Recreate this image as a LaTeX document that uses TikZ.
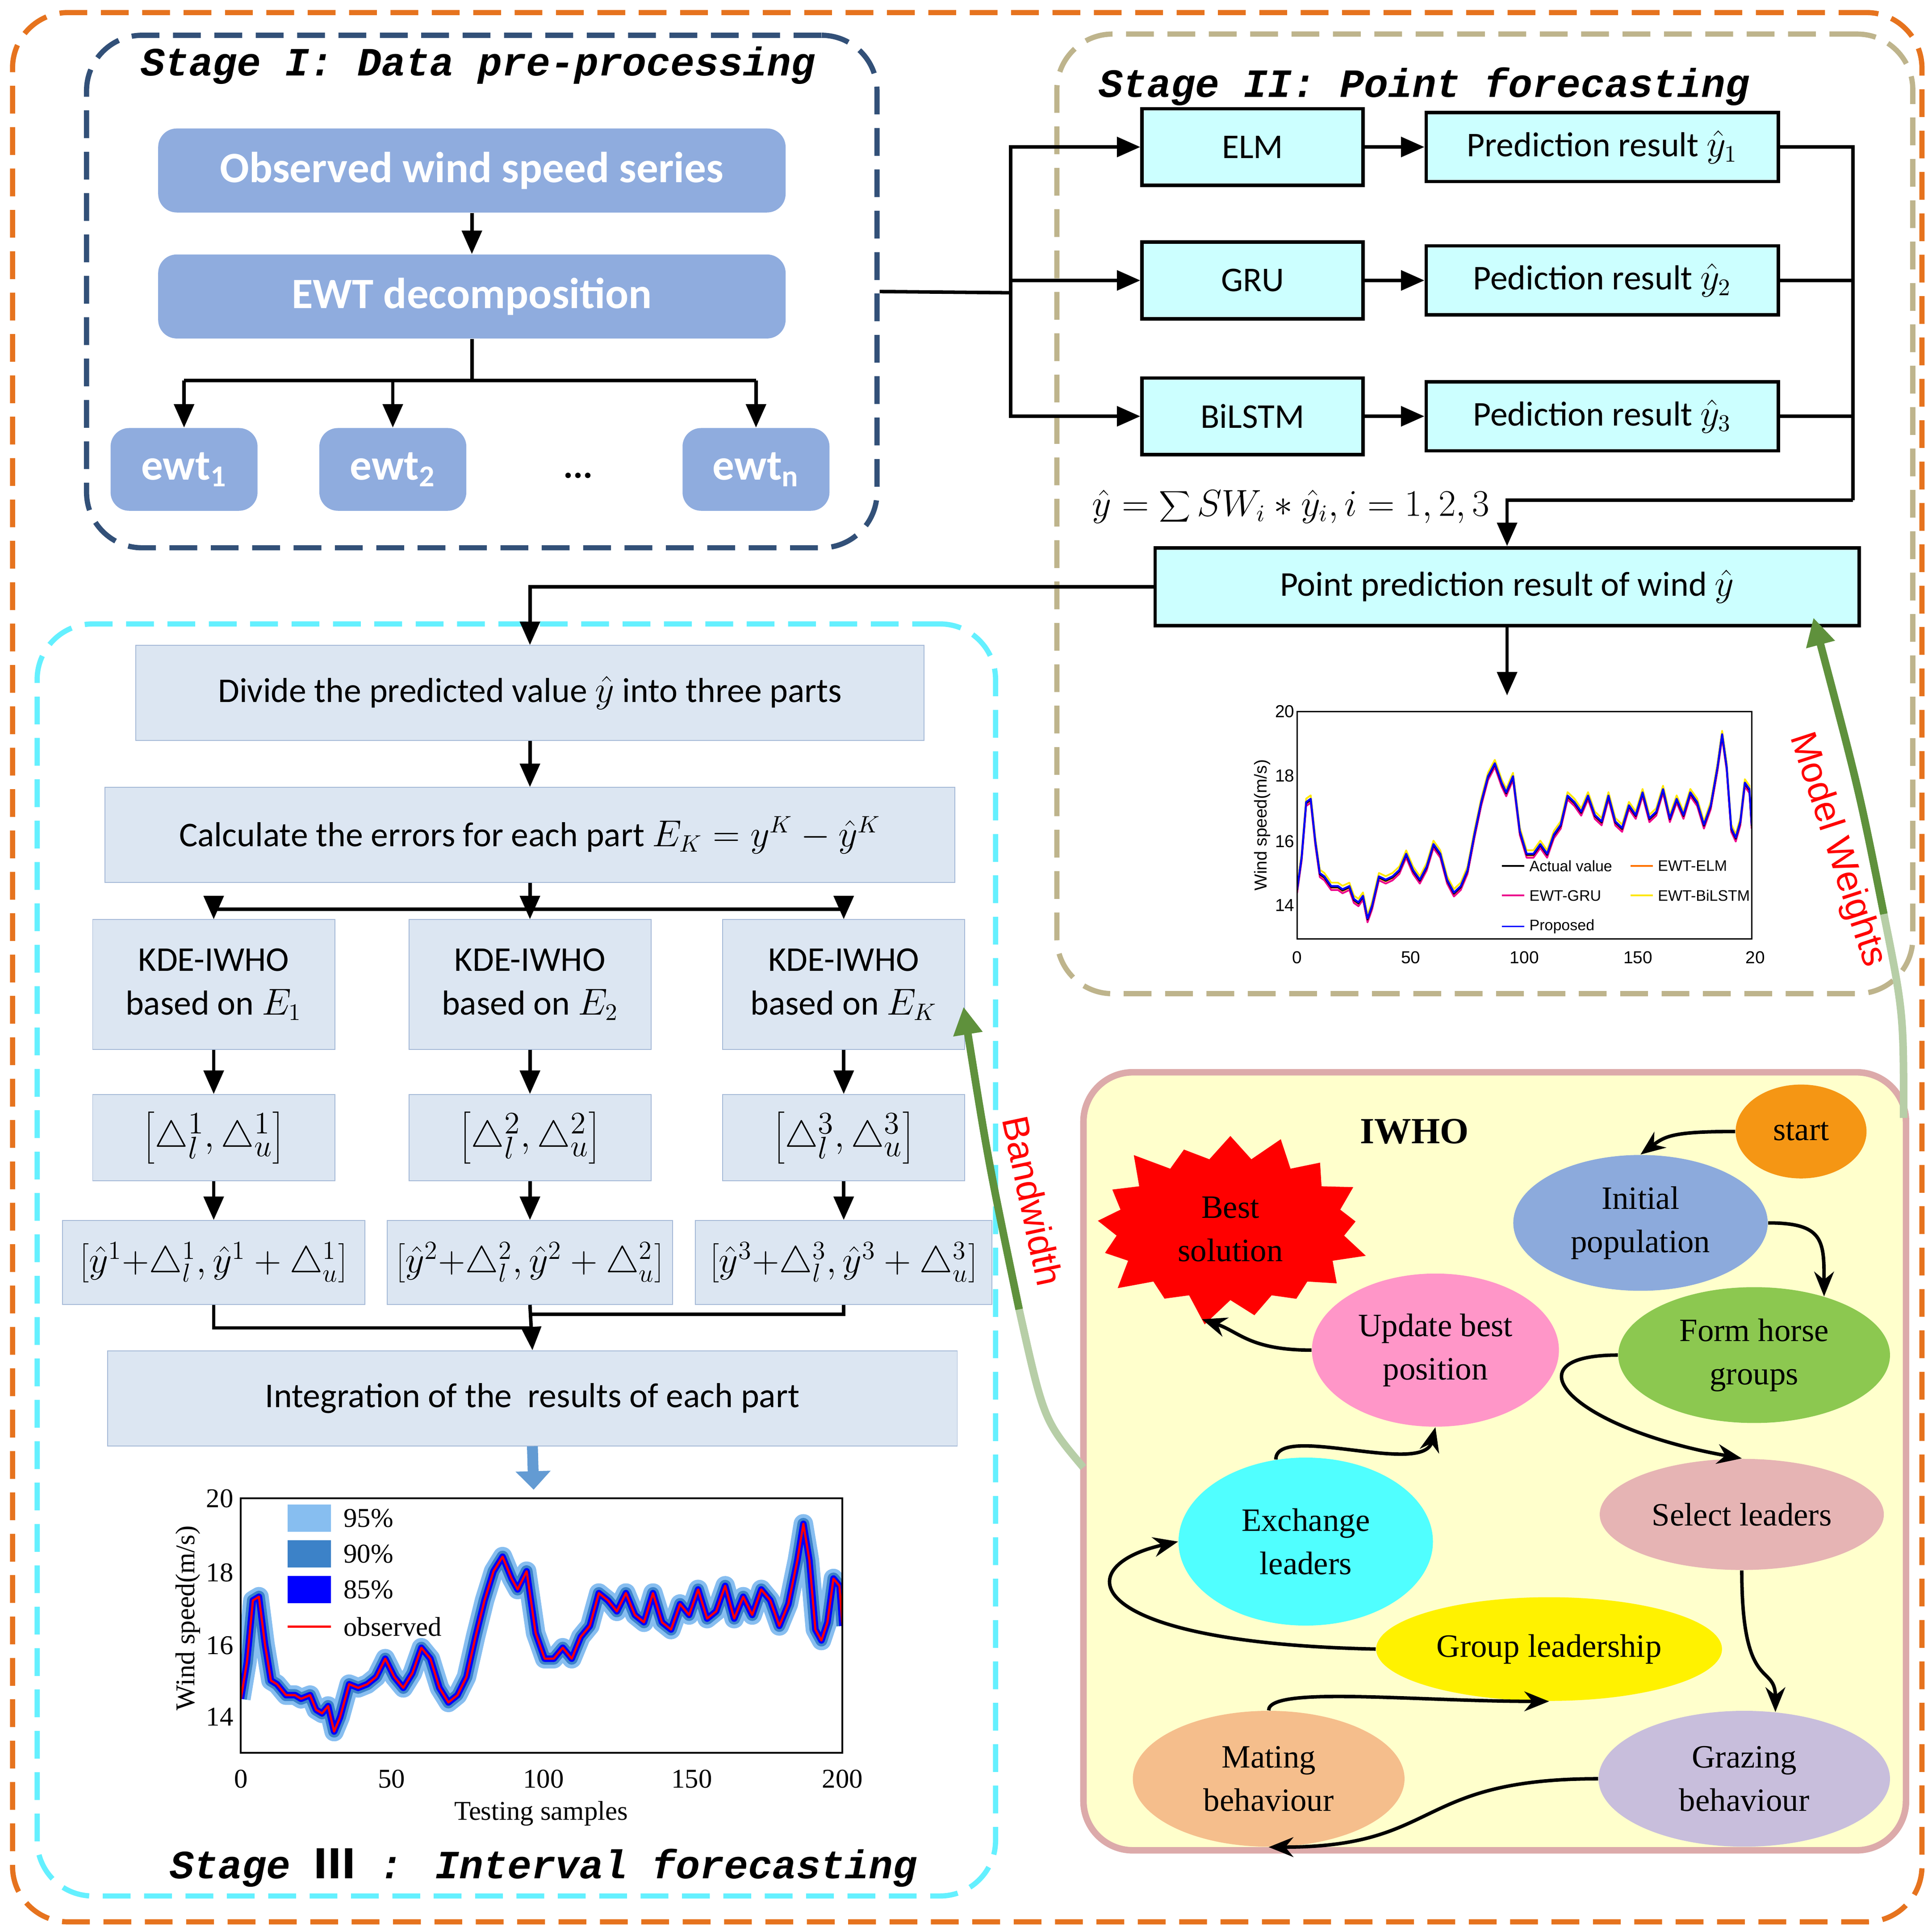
\documentclass[tikz,border=0pt]{standalone}
\usepackage{fontspec}
\setmainfont{Carlito}
\newfontfamily\tnr{Liberation Serif}
\newfontfamily\mono{Liberation Mono}
\newfontfamily\arial{Liberation Sans}
\newfontfamily\cjk{Noto Sans CJK SC}
\usepackage{tikz}
\usetikzlibrary{arrows.meta,shapes.geometric,shapes.symbols,calc}
\definecolor{StageOneColor}{RGB}{50,80,120}
\definecolor{StageTwoColor}{RGB}{190,180,140}
\definecolor{StageThreeColor}{RGB}{100,240,255}
\definecolor{OuterColor}{RGB}{230,115,30}
\definecolor{EwtFill}{RGB}{143,172,222}
\definecolor{ModelFill}{RGB}{204,255,255}
\definecolor{PartFill}{RGB}{220,230,242}
\definecolor{PartDraw}{RGB}{165,185,215}
\definecolor{IwhoFill}{RGB}{255,255,204}
\definecolor{IwhoDraw}{RGB}{220,170,170}
\definecolor{WeightGreen}{RGB}{95,145,60}
\definecolor{BandA}{RGB}{135,190,240}
\definecolor{BandB}{RGB}{60,130,200}
\def\winddata{2/15.5,4/17.2,6/17.3,8/16,10/15,12/14.9,15/14.6,18/14.6,20/14.5,23/14.6,25/14.2,27/14.1,29/14.3,31/13.6,33/14,36/14.9,39/14.8,42/14.9,45/15.1,48/15.6,51/15.1,54/14.8,57/15.2,60/15.9,63/15.6,66/14.8,69/14.4,72/14.6,75/15.1,78/16.2,81/17.2,84/18,87/18.4,90/17.8,92/17.5,95/18,98/16.3,101/15.6,104/15.6,107/15.9,110/15.6,113/16.2,116/16.5,119/17.4,122/17.2,125/16.9,128/17.4,131/16.8,134/16.6,137/17.4,140/16.6,143/16.4,146/17.1,149/16.8,152/17.5,155/16.7,158/16.9,161/17.6,164/16.7,167/17.3,170/16.8,173/17.5,176/17.2,179/16.5,182/17.1,185/18.3,187/19.3,189/18.3,191/16.4,193/16.1,195/16.6,197/17.8,199/17.6,200/16.5}
\newcommand\windline[1]{\draw[#1,line join=round] (0,14.5) \foreach \a/\b in \winddata {-- (\a,\b)};}
\begin{document}
\begin{tikzpicture}[x=0.02cm,y=-0.02cm,
  stage/.style={draw,dashed,line width=2.4pt,dash pattern=on 0.45cm off 0.22cm,rounded corners=0.9cm,inner sep=0},
  ewt/.style={fill=EwtFill,rounded corners=0.3cm,text=white,font=\bfseries\fontsize{20}{24}\selectfont},
  model/.style={draw,fill=ModelFill,line width=1.6pt,font=\fontsize{16}{18}\selectfont},
  part/.style={draw=PartDraw,fill=PartFill,align=center,font=\fontsize{16}{20}\selectfont},
  title/.style={font=\mono\bfseries\itshape\fontsize{18.5}{20}\selectfont},
  arr/.style={line width=1.6pt,-{Triangle[length=0.38cm,width=0.32cm]}},
  line/.style={line width=1.6pt},
  act/.style={ellipse,inner sep=0,align=center,font=\tnr\fontsize{15}{20}\selectfont},
  carr/.style={line width=1.6pt,-{Stealth[length=0.4cm,width=0.32cm]}},
  tick/.style={font=\tnr\fontsize{12.5}{14}\selectfont},
  small/.style={font=\arial\fontsize{7}{8}\selectfont,inner sep=1pt,anchor=west}]
\useasboundingbox (0,0) rectangle (1564,1563);
% outer frame and stages
\node[stage,draw=OuterColor,minimum width=30.92cm,minimum height=30.92cm] (outer) at (783,783) {};
\node[stage,draw=StageOneColor,minimum width=12.8cm,minimum height=8.3cm] (stageI) at (390,236) {};
\node[stage,draw=StageTwoColor,minimum width=13.86cm,minimum height=15.54cm] (stageII) at (1202,416) {};
\node[stage,draw=StageThreeColor,minimum width=15.52cm,minimum height=20.6cm] (stageIII) at (418,1020) {};
\node[title] (tI) at (387,53) {Stage I: Data pre-processing};
\node[title] (tII) at (1153,70) {Stage II: Point forecasting};
\node[title] (tIII) at (440,1512) {Stage {\cjk Ⅲ} : Interval forecasting};

% Stage I
\node[ewt,minimum width=10.16cm,minimum height=1.36cm] (obs) at (382,138) {Observed wind speed series};
\node[ewt,minimum width=10.16cm,minimum height=1.36cm] (dec) at (382,240) {EWT decomposition};
\foreach \x/\n/\s in {149/e1/1,318/e2/2,612/en/n}
  \node[ewt,minimum width=2.38cm,minimum height=1.34cm] (\n) at (\x,380) {ewt\textsubscript{\s}};
\node[font=\bfseries\fontsize{17}{20}\selectfont] (dots) at (468,385) {...};
\draw[arr] (obs) -- (dec);
\coordinate (decsplit) at (382,308);
\draw[line] (dec.south) -- (decsplit);
\draw[line] (e1.north |- decsplit) -- (en.north |- decsplit);
\foreach \n in {e1,e2,en}
  \draw[arr] (\n.north |- decsplit) -- (\n.north);

% Stage II
\foreach \y/\m/\p/\t in {119/elm/pa/{Prediction result $\hat{y}_1$},227/gru/pb/{Pediction result $\hat{y}_2$},337/bilstm/pc/{Pediction result $\hat{y}_3$}}
{
  \node[model,minimum width=3.58cm,minimum height=1.24cm] (\m) at (1014,\y) {};
  \node[model,minimum width=5.7cm,minimum height=1.12cm] (\p) at (1297,\y) {\t};
  \draw[arr] (\m) -- (\p);
}
\node[font=\fontsize{16}{18}\selectfont] (elmt) at (elm) {ELM};
\node[font=\fontsize{16}{18}\selectfont] (grut) at (gru) {GRU};
\node[font=\fontsize{16}{18}\selectfont] (bilt) at (bilstm) {BiLSTM};
\coordinate (split) at (818,237);
\draw[line] (stageI.east) -- (split);
\draw[arr] (split) |- (elm);
\draw[arr] (split) |- (gru);
\draw[arr] (split) |- (bilstm);
\node[model,minimum width=11.4cm,minimum height=1.26cm] (point) at (1220,475) {Point prediction result of wind $\hat{y}$};
\coordinate (sumr) at (1500,405);
\draw[line] (pa.east) -| (sumr);
\draw[line] (pb.east) -- (pb.east -| sumr);
\draw[line] (pc.east) -- (pc.east -| sumr);
\draw[arr] (sumr) -| (point.north);
\node[font=\tnr\fontsize{16}{18}\selectfont] (formula) at (1045,410) {$\hat{y}=\displaystyle\sum SW_i*\hat{y}_i, i=1,2,3$};
\coordinate (chartin) at (1220,563);
\draw[arr] (point.south) -- (chartin);

% point chart
\begin{scope}
\clip (1050,576) rectangle (1418,760);
\begin{scope}[shift={(1050,1099.4)},xscale=1.84,yscale=-26.17]
\windline{yellow!90!orange,line width=0.8pt,yshift=-0.06pt}
\windline{orange!90!red,line width=0.8pt,yshift=0.03pt}
\windline{magenta,line width=0.8pt,yshift=0.07pt}
\windline{black,line width=0.8pt,yshift=0.02pt}
\windline{blue,line width=0.9pt}
\end{scope}
\end{scope}
\draw[line width=0.6pt] (1050,576) rectangle (1418,760);
\foreach \v/\yy in {14/733,16/681,18/628,20/576}
  \node[font=\arial\fontsize{8}{9}\selectfont] (py\v) at (1040,\yy) {\v};
\foreach \v/\xx in {0/1050,50/1142,100/1234,150/1326}
  \node[font=\arial\fontsize{8}{9}\selectfont] (px\v) at (\xx,775) {\v};
\node[font=\arial\fontsize{8}{9}\selectfont,anchor=west] (px200) at (1407,775) {20};
\node[font=\arial\fontsize{8}{9}\selectfont,rotate=90] (pylab) at (1022,668) {Wind speed(m/s)};
\foreach \c/\xx/\yy/\t/\n in {black/1216/701/Actual value/la,orange!90!red/1320/701/EWT-ELM/lb,magenta/1216/725/EWT-GRU/lc,yellow!90!orange/1320/725/EWT-BiLSTM/ld,blue/1216/750/Proposed/le}
{
  \draw[\c,line width=0.8pt] (\xx,\yy) -- (\xx+18,\yy);
  \node[small] (\n) at (\xx+20,\yy) {\t};
}

% Stage III
\node[part,minimum width=12.76cm,minimum height=1.54cm] (divide) at (429,561) {Divide the predicted value $\hat{y}$ into three parts};
\node[part,minimum width=13.76cm,minimum height=1.54cm] (calc) at (429,676) {Calculate the errors for each part $E_K=y^K-\hat{y}^K$};
\draw[arr] (point.west) -| (divide.north);
\draw[arr] (divide) -- (calc);
\coordinate (bar) at (429,736);
\foreach \x/\k/\s/\w in {173/1/1/4.9,429/2/2/4.62,683/3/K/4.8}
{
  \node[part,minimum width=3.92cm,minimum height=2.1cm] (kde\k) at (\x,797) {KDE-IWHO\\based on $E_{\s}$};
  \node[part,minimum width=3.92cm,minimum height=1.4cm,font=\fontsize{19}{20}\selectfont] (int\k) at (\x,921) {$\left[\triangle_l^{\k},\triangle_u^{\k}\right]$};
  \node[part,minimum width=\w cm,minimum height=1.36cm,font=\fontsize{18}{20}\selectfont] (fin\k) at (\x,1022) {$\left[\hat{y}^{\k}{+}\triangle_l^{\k},\hat{y}^{\k}+\triangle_u^{\k}\right]$};
  \draw[arr] (kde\k.north |- bar) -- (kde\k.north);
  \draw[arr] (kde\k) -- (int\k);
  \draw[arr] (int\k) -- (fin\k);
}
\draw[line] (calc.south) -- (bar);
\draw[line] (kde1.north |- bar) -- (kde3.north |- bar);
\node[part,minimum width=13.76cm,minimum height=1.54cm] (integ) at (431,1132) {Integration of the \ results of each part};
\coordinate (joinA) at (429,1075);
\coordinate (joinB) at (429,1064);
\draw[line] (fin1.south) |- (joinA);
\draw[line] (fin3.south) |- (joinB);
\draw[arr] (fin2.south) -- (integ.north);
\coordinate (bandin) at (432,1206);
\draw[line width=5pt,BandB!80,-{Triangle[length=0.3cm,width=0.55cm]}] (integ.south) -- (bandin);

% interval chart
\begin{scope}
\clip (195,1213) rectangle (682,1419);
\begin{scope}[shift={(195,1803)},xscale=2.435,yscale=-29.5]
\windline{BandA,line width=9pt}
\windline{BandB,line width=5.5pt}
\windline{blue,line width=3pt}
\windline{red,line width=1pt}
\end{scope}
\end{scope}
\draw[line width=0.8pt] (195,1213) rectangle (682,1419);
\foreach \v/\yy in {14/1390,16/1332,18/1273,20/1213}
  \node[tick] (iy\v) at (178,\yy) {\v};
\foreach \v/\xx in {0/195,50/317,100/440,150/560,200/682}
  \node[tick] (ix\v) at (\xx,1440) {\v};
\node[tick,rotate=90] (iylab) at (152,1310) {Wind speed(m/s)};
\node[tick] (ixlab) at (438,1468) {Testing samples};
\foreach \c/\yy/\t/\n in {BandA/1229/95\%/ka,BandB/1258/90\%/kb,blue/1287/85\%/kc}
{
  \fill[\c] (233,\yy-11) rectangle (268,\yy+11);
  \node[tick,anchor=west] (\n) at (272,\yy) {\t};
}
\draw[red,line width=1pt] (233,1317) -- (268,1317);
\node[tick,anchor=west] (kd) at (272,1317) {observed};

% IWHO
\node[draw=IwhoDraw,fill=IwhoFill,line width=3pt,rounded corners=0.8cm,minimum width=13.32cm,minimum height=12.6cm] (iwho) at (1210,1183) {};
\node[font=\tnr\bfseries\fontsize{17}{20}\selectfont] (iwhot) at (1145,916) {IWHO};
\node[act,fill={rgb,255:red,245;green,150;blue,20},minimum width=2.12cm,minimum height=1.52cm] (start) at (1458,916) {start};
\node[act,fill={rgb,255:red,140;green,170;blue,220},minimum width=4.12cm,minimum height=2.2cm] (init) at (1328,990) {Initial\\population};
\node[act,fill={rgb,255:red,140;green,200;blue,80},minimum width=4.4cm,minimum height=2.2cm] (form) at (1420,1097) {Form horse\\groups};
\node[act,fill={rgb,255:red,255;green,150;blue,200},minimum width=4cm,minimum height=2.48cm] (update) at (1162,1093) {Update best\\position};
\node[starburst,fill=red,draw=none,minimum width=4.7cm,minimum height=3.3cm] (best) at (996,995) {};
\node[align=center,font=\tnr\fontsize{15}{20}\selectfont] (bestt) at (best) {Best\\solution};
\node[act,fill={rgb,255:red,230;green,180;blue,180},minimum width=4.6cm,minimum height=1.8cm] (select) at (1410,1226) {Select leaders};
\node[act,fill={rgb,255:red,80;green,255;blue,255},minimum width=4.12cm,minimum height=2.72cm] (exch) at (1057,1248) {Exchange\\leaders};
\node[act,fill=yellow,minimum width=5.6cm,minimum height=1.68cm] (group) at (1254,1335) {Group leadership};
\node[act,fill={rgb,255:red,245;green,190;blue,140},minimum width=4.4cm,minimum height=2.2cm] (mating) at (1027,1440) {Mating\\behaviour};
\node[act,fill={rgb,255:red,200;green,190;blue,220},minimum width=4.72cm,minimum height=2.2cm] (grazing) at (1412,1440) {Grazing\\behaviour};
\coordinate (bestin) at (973,1068);
\draw[carr] (start.west) .. controls +(-50,0) and +(20,-15) .. (init.north);
\draw[carr] (init.east) .. controls +(45,0) and +(0,-45) .. (form.40);
\draw[carr] (form.west) .. controls +(-90,0) and +(-140,-25) .. (select.north);
\draw[carr] (select.south) .. controls +(0,100) and +(0,-40) .. (grazing.65);
\draw[carr] (grazing.west) .. controls +(-150,0) and +(140,0) .. (mating.south);
\draw[carr] (mating.north) .. controls +(0,-20) and +(-110,0) .. (group.south);
\draw[carr] (group.west) .. controls +(-240,-5) and +(-90,20) .. (exch.west);
\draw[carr] (exch.110) .. controls +(0,-30) and +(-10,40) .. (update.south);
\draw[carr] (update.west) .. controls +(-50,0) and +(30,10) .. (bestin);

% feedback arrows
\coordinate (mwfrom) at (1541,905);
\coordinate (mwto) at (1468,500);
\coordinate (bwfrom) at (877,1188);
\coordinate (bwto) at (780,815);
\draw[line width=3.5pt,WeightGreen!45] (mwfrom) .. controls (1541,820) .. (1525,740);
\draw[line width=3.5pt,WeightGreen,-{Triangle[length=0.45cm,width=0.45cm]}] (1525,740) .. controls (1505,640) .. (mwto);
\draw[line width=3.5pt,WeightGreen!45] (bwfrom) .. controls (845,1150) .. (825,1060);
\draw[line width=3.5pt,WeightGreen,-{Triangle[length=0.45cm,width=0.45cm]}] (825,1060) .. controls (800,940) .. (bwto);
\node[text=red,rotate=-72,font=\arial\fontsize{17}{20}\selectfont] (mwlab) at (1487,688) {Model Weights};
\node[text=red,rotate=-78,font=\arial\fontsize{17}{20}\selectfont] (bwlab) at (836,972) {Bandwidth};
\end{tikzpicture}
\end{document}
